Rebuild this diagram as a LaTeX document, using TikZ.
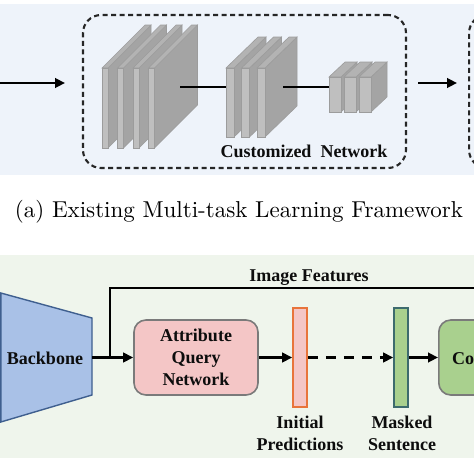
\documentclass[tikz,border=0pt]{standalone}
\usepackage{fontspec}
\newfontfamily\tnr{Liberation Serif}
\usetikzlibrary{arrows.meta}
\definecolor{topbg}{HTML}{EEF3FA}
\definecolor{botbg}{HTML}{EFF5EC}
\definecolor{bbfill}{HTML}{A9C1E7}
\definecolor{bbedge}{HTML}{3F5F8F}
\definecolor{pinkfill}{HTML}{F4C6C6}
\definecolor{boxedge}{HTML}{7A7A7A}
\definecolor{orangeedge}{HTML}{E8743B}
\definecolor{greenfill}{HTML}{A9D08E}
\definecolor{tealedge}{HTML}{3D6B6E}
\definecolor{slabfront}{HTML}{BFBFBF}
\definecolor{slabside}{HTML}{A4A4A4}
\definecolor{slabtopc}{HTML}{B3B3B3}
\definecolor{slabedge}{HTML}{9C9C9C}
\newcommand\slabbox[6]{% x, y1, h, w, dx, dy
  \filldraw[draw=slabedge, line width=0.6pt, fill=slabside] ({#1+#4},#2) -- ++(#5,-#6) -- ++(0,#3) -- ++(-#5,#6) -- cycle;
  \filldraw[draw=slabedge, line width=0.6pt, fill=slabtopc] (#1,#2) -- ++(#5,-#6) -- ++(#4,0) -- ++(-#5,#6) -- cycle;
  \filldraw[draw=slabedge, line width=0.6pt, fill=slabfront] (#1,#2) rectangle ++(#4,#3);
}
\begin{document}
\begin{tikzpicture}[x=1pt,y=-1pt,
  txt/.style={font=\tnr\bfseries\fontsize{18}{22}\selectfont, text=black!95, inner sep=0pt},
  arr/.style={line width=2.8pt, -{Triangle[length=10pt,width=9.5pt]}},
  conn/.style={line width=2.8pt},
  dbox/.style={draw=black!85, line width=2.1pt, dash pattern=on 5pt off 3.5pt, rounded corners=18pt},
  rbox/.style={draw=boxedge, line width=1.6pt, rounded corners=12pt, align=center, inner sep=0pt,
    font=\tnr\bfseries\fontsize{18}{22}\selectfont, text=black!95},
  bar/.style={line width=1.6pt, minimum width=14pt, minimum height=99pt, inner sep=0pt}
]
\useasboundingbox (0,0) rectangle (474,474);
\clip (0,0) rectangle (474,474);
\fill[white] (0,0) rectangle (474,474);
% ---------- top panel ----------
\fill[topbg] (0,4) rectangle (474,175);
\node[dbox, minimum width=323pt, minimum height=153pt] (cnet) at (244.5,91.5) {};
\node[dbox, minimum width=160pt, minimum height=153pt, anchor=west] (next) at (468,91.5) {};
\coordinate (inL) at (0,83);
\coordinate (inR) at (65,83);
\coordinate (outL) at (418,83);
\coordinate (outR) at (457,83);
\draw[arr] (inL) -- (inR);
\draw[arr] (outL) -- (outR);
% big stack
\slabbox{102}{68}{80}{6}{43}{43}
\slabbox{117.5}{68}{80}{6}{43}{43}
\slabbox{133}{68}{80}{6}{43}{43}
\slabbox{148.5}{68}{80}{6}{43}{43}
% middle stack
\slabbox{226}{68}{69}{8}{32}{31}
\slabbox{241.5}{68}{69}{8}{32}{31}
\slabbox{257}{68}{69}{8}{32}{31}
% small stack
\slabbox{329}{77}{35}{12}{16}{15}
\slabbox{344}{77}{35}{12}{16}{15}
\slabbox{359}{77}{35}{12}{16}{15}
\coordinate (l1a) at (180,87);
\coordinate (l1b) at (226,87);
\coordinate (l2a) at (283,87);
\coordinate (l2b) at (329,87);
\draw[conn] (l1a) -- (l1b);
\draw[conn] (l2a) -- (l2b);
\node[txt, anchor=base] (cnlbl) at (304,157) {Customized\ \ Network};
% caption
\node[inner sep=0pt, anchor=base] (capa) at (239,217) {\resizebox{448pt}{!}{(a) Existing Multi-task Learning Framework}};
% ---------- bottom panel ----------
\fill[botbg] (0,255) rectangle (474,458);
\filldraw[fill=bbfill, draw=bbedge, line width=1.4pt] (0.8,293) -- (92,318) -- (92,395) -- (0.8,422) -- cycle;
\node[txt] (bb) at (45,358) {Backbone};
\coordinate (bbR) at (92,357.5);
\coordinate (br) at (110,357.5);
\coordinate (brTop) at (110,288);
\coordinate (brEnd) at (480,288);
\node[rbox, fill=pinkfill, minimum width=124pt, minimum height=75pt] (aqn) at (196,357.5) {Attribute\\Query\\Network};
\node[bar, draw=orangeedge, fill=pinkfill] (ip) at (300,357.5) {};
\node[bar, draw=tealedge, fill=greenfill] (ms) at (401,357.5) {};
\node[rbox, fill=greenfill, minimum width=130pt, minimum height=75pt, anchor=west] (cn) at (438,357.5) {};
\node[txt, anchor=base west] (cntxt) at (452,364) {Co};
\draw[arr] (bbR) -- (aqn.west);
\draw[conn, line cap=rect] (br) -- (brTop) -- (brEnd);
\node[txt, anchor=base] (imgf) at (309,281) {Image Features};
\draw[arr] (aqn.east) -- (ip.west);
\draw[arr, dash pattern=on 10pt off 8pt] (ip.east) -- (ms.west);
\draw[arr] (ms.east) -- (cn.west);
\node[txt, align=center] (iplbl) at (300,433) {Initial\\Predictions};
\node[txt, align=center] (mslbl) at (402,433) {Masked\\Sentence};
\end{tikzpicture}
\end{document}
